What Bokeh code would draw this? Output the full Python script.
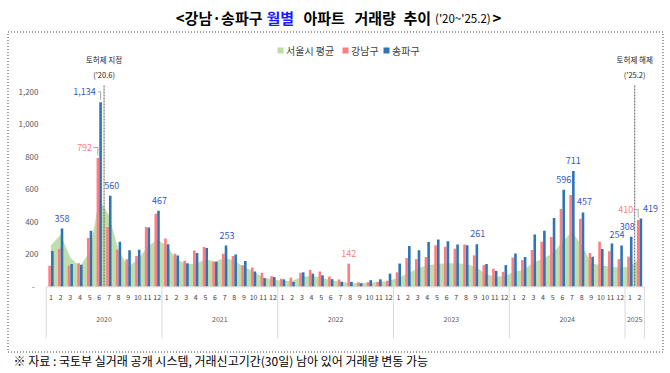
from bokeh.plotting import figure
from bokeh.models import Range1d
from bokeh.core.properties import value
from bokeh.embed import file_html
from bokeh.resources import INLINE

# ---------------- data ----------------
year_labels = ["2020", "2021", "2022", "2023", "2024", "2025"]
months_per_year = [12, 12, 12, 12, 12, 2]
month_labels = (["1", "2", "3", "4", "5", "6", "7", "8", "9", "10", "11", "12"] * 5) + ["1", "2"]

seoul_avg = [255, 320, 180, 125, 215, 537, 440, 225, 125, 168, 245, 290,
             250, 170, 140, 140, 170, 155, 178, 160, 123, 92, 57, 47,
             35, 35, 62, 66, 57, 41, 31, 25, 20, 25, 29, 35,
             57, 82, 113, 133, 140, 144, 144, 140, 123, 82, 62, 66,
             92, 103, 150, 174, 205, 277, 338, 256, 144, 133, 123, 118,
             123, 174]
gangnam = [130, 234, 130, 145, 300, 792, 367, 227, 170, 189, 367, 449,
           297, 203, 160, 223, 244, 154, 203, 190, 132, 118, 86, 65,
           49, 56, 86, 104, 94, 63, 45, 142, 28, 28, 31, 37,
           89, 177, 170, 183, 256, 246, 234, 260, 193, 133, 111, 92,
           180, 164, 226, 277, 306, 478, 564, 418, 207, 277, 219, 170,
           185, 410]
songpa = [220, 358, 140, 135, 345, 1134, 560, 277, 224, 227, 365, 467,
          262, 193, 144, 207, 238, 154, 253, 198, 158, 94, 53, 60,
          46, 30, 89, 81, 71, 47, 31, 31, 22, 41, 46, 81,
          143, 251, 225, 276, 291, 280, 260, 256, 261, 140, 98, 133,
          205, 183, 322, 344, 422, 596, 711, 457, 185, 232, 266, 254,
          308, 419]

y_ticks = [0, 200, 400, 600, 800, 1000, 1200]
y_tick_labels = ["-", "200", "400", "600", "800", "1,000", "1,200"]

series_names = ["서울시 평균", "강남구", "송파구"]
footnote = "※ 자료 : 국토부 실거래 공개 시스템, 거래신고기간(30일) 남아 있어 거래량 변동 가능"

# labelled points: (month index, series, dx px, leader)
callouts = [(1, "s", 0, False), (5, "s", -16, True), (5, "g", -13.5, True),
            (6, "s", 1.5, False), (11, "s", 1, False), (18, "s", 1, False),
            (31, "g", 0, False), (44, "s", 1, False), (53, "s", 0, False),
            (54, "s", 0, False), (55, "s", 1.5, False), (59, "s", -4.5, False),
            (60, "s", -4, False), (61, "g", -12.5, True), (61, "s", 9.5, False)]

events = [(5.5, "토허제 지정", "('20.6)"), (60.5, "토허제 해제", "('25.2)")]

# ---------------- geometry ----------------
W, H = 668, 371
DX = 9.648          # px per month
X0 = 50.5           # page x of first month
KY = 0.16275        # px per unit
Y0 = 286.3          # page y of zero


def X(px):
    return (px - X0) / DX


def Y(py):
    return (Y0 - py) / KY


FONT = value("Noto Sans CJK KR")
PINK, BLUE, GREEN = "#FF7C80", "#2E75B6", "#BEDCA5"
LBL_BLUE, LBL_PINK = "#3355CC", "#FF7C80"

p = figure(width=W, height=H, output_backend="svg", toolbar_location=None,
           x_range=Range1d(X(0), X(W)), y_range=Range1d(Y(H), Y(0)),
           x_axis_location=None, y_axis_location=None, min_border=0,
           background_fill_color="white", border_fill_color="white")
p.grid.visible = False
p.outline_line_color = None

n = len(month_labels)
idx = list(range(n))

# border
p.quad(left=[X(7.5)], right=[X(662.5)], bottom=[Y(351.5)], top=[Y(31.5)],
       fill_color=None, line_color="#404040", line_dash="1 2", line_width=1)

# green area
p.varea(x=idx, y1=[0] * n, y2=seoul_avg, fill_color=GREEN, fill_alpha=0.95)

# bars
p.vbar(x=[i - 0.14 for i in idx], top=gangnam, width=0.27, fill_color=PINK, line_color=None)
p.vbar(x=[i + 0.14 for i in idx], top=songpa, width=0.27, fill_color=BLUE, line_color=None)

# axis line & year separators
bounds = [-0.5]
for c in months_per_year:
    bounds.append(bounds[-1] + c)
p.segment(x0=[-0.5], y0=[0], x1=[n - 0.5], y1=[0], line_color="#D9D9D9", line_width=1)
p.segment(x0=bounds, y0=[0] * len(bounds), x1=bounds, y1=[Y(338)] * len(bounds),
          line_color="#D9D9D9", line_width=1)

# month & year labels
p.text(x=idx, y=[Y(296)] * n, text=month_labels, text_font=FONT, text_font_size=value("7px"),
       text_color="#404040", text_align="center", text_baseline="middle")
year_centers = [(bounds[k] + bounds[k + 1]) / 2 for k in range(len(year_labels))]
p.text(x=year_centers, y=[Y(318)] * len(year_labels), text=year_labels, text_font=FONT,
       text_font_size=value("7px"), text_color="#595959", text_align="center", text_baseline="middle")

# y tick labels
p.text(x=[X(38)] * len(y_ticks), y=y_ticks, text=y_tick_labels, text_font=FONT,
       text_font_size=value("8px"), text_color="#595959", text_align="right", text_baseline="middle",
       x_offset=[-4 if t == 0 else 0 for t in y_ticks])

# event lines and notes
for ex, t1, t2 in events:
    p.segment(x0=[ex], y0=[Y(85)], x1=[ex], y1=[0], line_color="#595959", line_dash="2 1", line_width=1)
    p.text(x=[ex], y=[Y(59)], text=[t1], text_font=FONT, text_font_size=value("7.5px"),
           text_color="#262626", text_align="center", text_baseline="middle")
    p.text(x=[ex], y=[Y(73.5)], text=[t2], text_font=FONT, text_font_size=value("7.5px"),
           text_color="#262626", text_align="center", text_baseline="middle")

# callout labels
for i, ser, dx, leader in callouts:
    if ser == "s":
        v, bx, col = songpa[i], i + 0.14, LBL_BLUE
    else:
        v, bx, col = gangnam[i], i - 0.14, LBL_PINK
    txt = f"{v:,}"
    p.text(x=[bx], y=[v], text=[txt], text_font=FONT, text_font_size=value("9px"),
           text_color=col, text_align="center", text_baseline="middle",
           x_offset=[dx], y_offset=[-10.5])
    if leader:
        half = len(txt) * 2.4 + 1.5
        ly = v + 10.5 / KY
        p.line(x=[bx + (dx + half) / DX, bx, bx], y=[ly, ly, v + 2.5 / KY],
               line_color="#A6A6A6", line_width=1)

# legend
leg_sq = [(280, GREEN), (345, PINK), (386, BLUE)]
p.scatter(x=[X(a) for a, _ in leg_sq], y=[Y(50)] * 3, marker="square", size=6,
          fill_color=[c for _, c in leg_sq], line_color=None)
p.text(x=[X(a + 5.5) for a, _ in leg_sq], y=[Y(50)] * 3, text=series_names, text_font=FONT,
       text_font_size=value("10px"), text_color="#404040", text_align="left", text_baseline="middle")

# title
TY = Y(17)
p.text(x=[X(262)], y=[TY], text=["<강남·송파구"], text_font=FONT, text_font_size=value("15px"),
       text_font_style="bold", text_color="#000000", text_align="right", text_baseline="middle")
p.text(x=[X(266)], y=[TY], text=["월별"], text_font=FONT, text_font_size=value("15px"),
       text_font_style="bold", text_color="#1A1AFF", text_align="left", text_baseline="middle")
p.text(x=[X(303), X(354), X(403)], y=[TY] * 3, text=["아파트", "거래량", "추이"], text_font=FONT,
       text_font_size=value("15px"), text_font_style="bold", text_color="#000000",
       text_align="left", text_baseline="middle")
p.text(x=[X(434.5)], y=[TY], text=["('20~'25.2)"], text_font=FONT, text_font_size=value("11.5px"),
       text_color="#000000", text_align="left", text_baseline="middle")
p.text(x=[X(492)], y=[TY], text=[">"], text_font=FONT, text_font_size=value("15px"),
       text_font_style="bold", text_color="#000000", text_align="left", text_baseline="middle")

# footnote
p.text(x=[X(13)], y=[Y(360)], text=[footnote], text_font=FONT, text_font_size=value("12px"),
       text_color="#000000", text_align="left", text_baseline="middle")

open("out.html", "w").write(file_html(p, INLINE))
